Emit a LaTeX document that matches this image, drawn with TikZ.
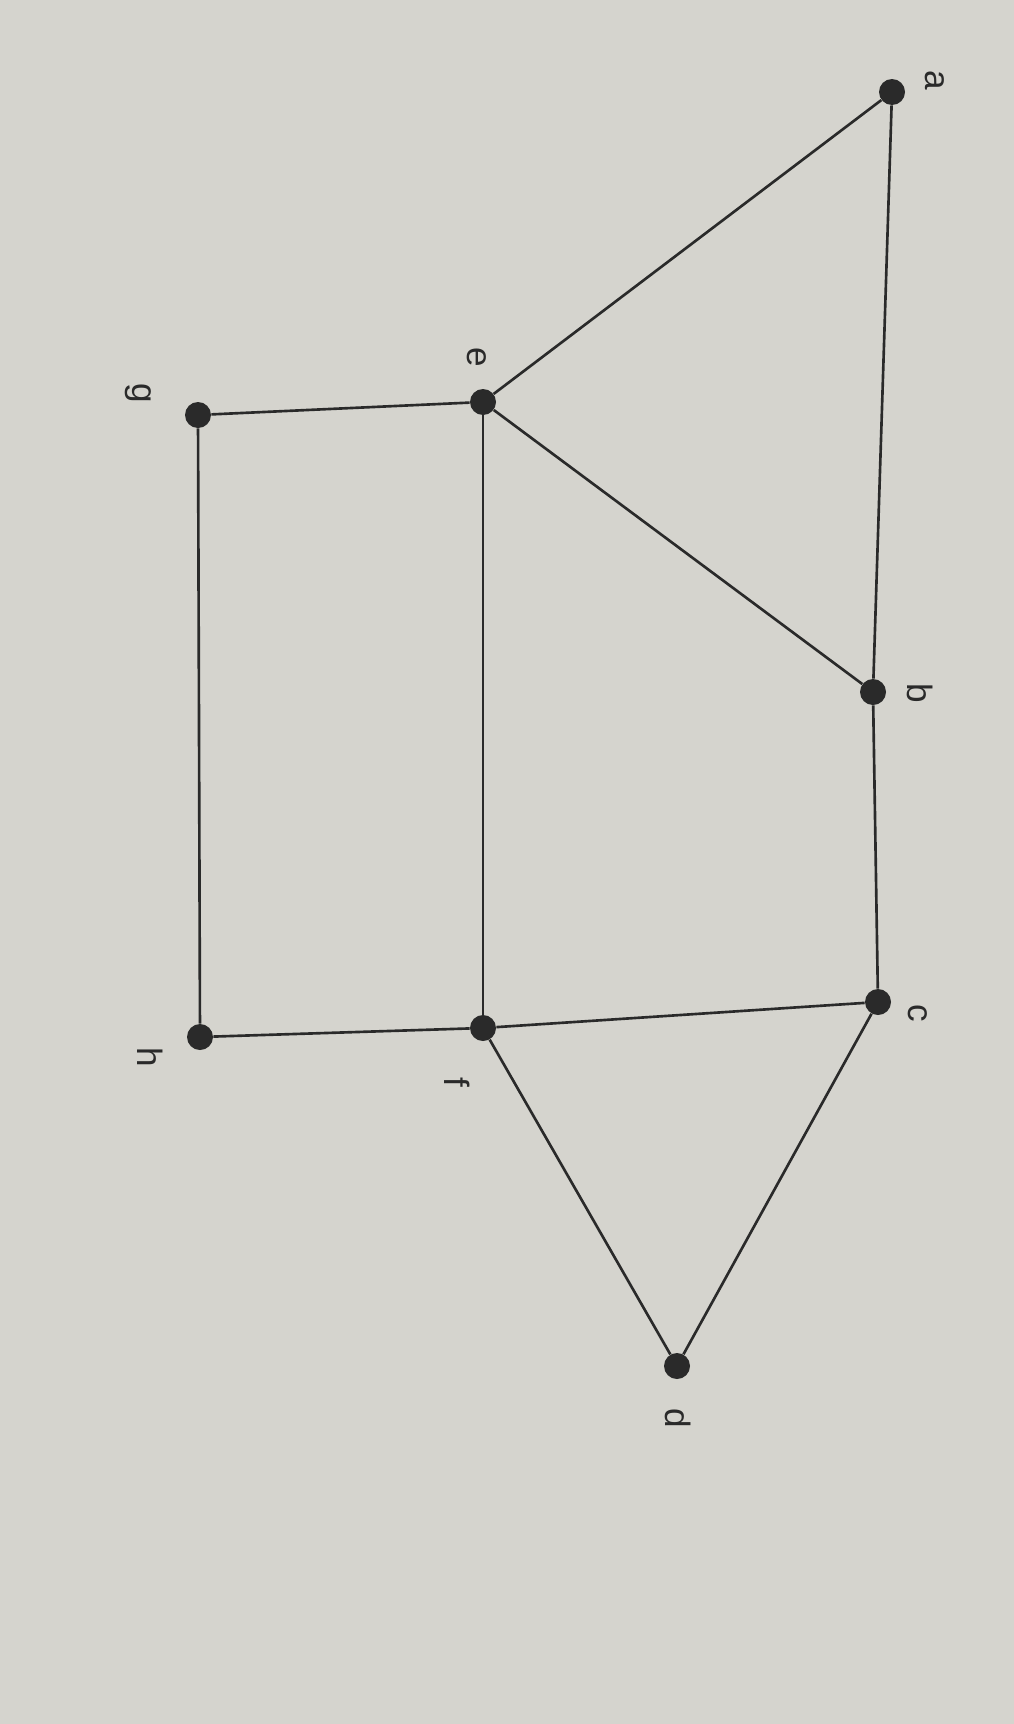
\documentclass[tikz,border=0pt]{standalone}
\usepackage{fontspec}
\setmainfont{Liberation Sans}
\definecolor{bg}{HTML}{D5D4CE}
\definecolor{ink}{HTML}{2A2A2A}
\begin{document}
\begin{tikzpicture}[x=0.02cm,y=-0.02cm,
  vtx/.style={circle,fill=ink,inner sep=0pt,minimum size=0.52cm},
  lbl/.style={rotate=-90,text=ink,font=\fontsize{20}{24}\selectfont,inner sep=0pt},
  edge/.style={draw=ink,line width=1.5pt}]
\fill[bg] (0,0) rectangle (1014,1724);
\useasboundingbox (0,0) rectangle (1014,1724);
\node[vtx] (a) at (892,92) {};
\node[vtx] (e) at (483,402) {};
\node[vtx] (g) at (198,415) {};
\node[vtx] (b) at (873,692) {};
\node[vtx] (c) at (878,1002) {};
\node[vtx] (f) at (483,1028) {};
\node[vtx] (h) at (200,1037) {};
\node[vtx] (d) at (677,1366) {};
\node[lbl] (la) at (935,80) {a};
\node[lbl] (le) at (477,357) {e};
\node[lbl] (lg) at (138,393) {g};
\node[lbl] (lb) at (920,693) {b};
\node[lbl] (lc) at (918,1013) {c};
\node[lbl] (lf) at (457,1082) {f};
\node[lbl] (lh) at (150,1057) {h};
\node[lbl] (ld) at (678,1418) {d};
\draw[edge] (a) -- (b);
\draw[edge] (b) -- (c);
\draw[edge] (a) -- (e);
\draw[edge] (e) -- (b);
\draw[edge] (e) -- (g);
\draw[edge] (e) -- (f);
\draw[edge] (g) -- (h);
\draw[edge] (f) -- (h);
\draw[edge] (f) -- (c);
\draw[edge] (f) -- (d);
\draw[edge] (c) -- (d);
\end{tikzpicture}
\end{document}
